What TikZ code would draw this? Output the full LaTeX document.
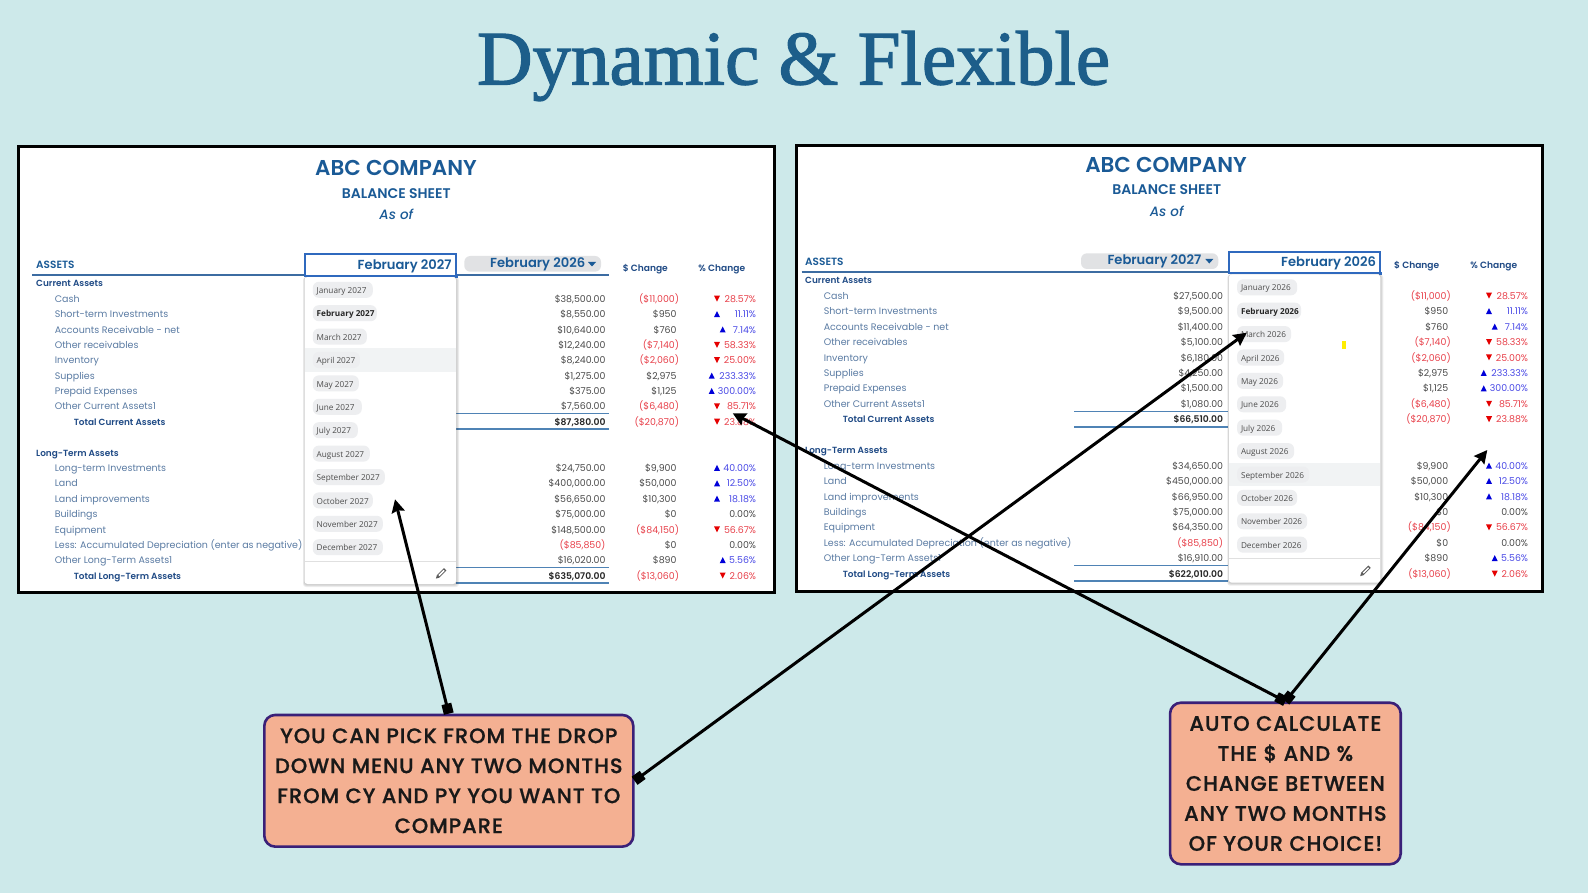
\documentclass[tikz,border=0pt]{standalone}
\usepackage{fontspec}
\usetikzlibrary{arrows.meta}
\setmainfont{Poppins}[BoldFont=Poppins SemiBold,BoldItalicFont=Poppins Medium Italic]
\newfontfamily\titlefont[FakeBold=1.6]{Liberation Serif}
\newfontfamily\callfont[LetterSpace=4.5,FakeBold=0.8]{Poppins Medium}
\newfontfamily\menufont{Open Sans}
\definecolor{bgc}{HTML}{CDE9EA}
\definecolor{titlec}{HTML}{1D5E8A}
\definecolor{headc}{HTML}{1A5A96}
\definecolor{labc}{HTML}{5A7BA3}
\definecolor{secc}{HTML}{1F4A85}
\definecolor{valc}{HTML}{4A4A4A}
\definecolor{redc}{HTML}{E8404A}
\definecolor{bluec}{HTML}{4A4AE6}
\definecolor{linec}{HTML}{4F83B5}
\definecolor{selc}{HTML}{2F69BE}
\definecolor{pillc}{HTML}{EDEEF0}
\definecolor{hlc}{HTML}{F1F3F4}
\definecolor{callfill}{HTML}{F4B092}
\definecolor{callline}{HTML}{3A2078}
\newcounter{cellno}
\tikzset{
  cell/.style={inner sep=0pt,text height=0.72em,text depth=0pt,font=\fontsize{9.4}{10}\selectfont},
  labcell/.style={cell,anchor=west,text=labc,font=\fontsize{9.5}{10}\selectfont},
  seccell/.style={cell,anchor=west,text=secc,font=\fontsize{8.9}{10}\selectfont\bfseries},
  valcell/.style={cell,anchor=east,text=valc},
  totcell/.style={valcell,text=black!85,font=\fontsize{9.2}{10}\selectfont\bfseries},
  panel/.style={draw=black,line width=3pt,fill=white},
  callout/.style={draw=callline,line width=2.6pt,fill=callfill,rounded corners=11pt,align=center,text=black!90,
    font=\callfont\fontsize{21}{30}\selectfont},
  link/.style={draw=black,line width=3pt,{Square[length=10pt,width=10pt]}-{Stealth[length=13pt,width=13pt,inset=1.5pt]}},
}
\newcommand\tcell[4]{\stepcounter{cellno}\node[#1] (c\thecellno) at (#2,#3) {#4};}
\newcommand\trione[3]{% direction, x, y
  \if#1u\fill[blue!85!black] (#2-3,#3+3) -- (#2+3,#3+3) -- (#2,#3-3) -- cycle;
  \else\fill[red!90!black] (#2-3,#3-3) -- (#2+3,#3-3) -- (#2,#3+3) -- cycle;\fi}
\newcommand\chgrow[5]{% idx, change, type, pct, tri offset
  \pgfmathsetmacro\yy{\Ya+#1*\Rh}
  \if#3d
    \tcell{valcell,text=redc}{\Xa}{\yy}{#2}
    \tcell{valcell,text=redc}{\Xb}{\yy}{#4}
    \pgfmathsetmacro\tx{\Xb-#5}\trione{d}{\tx}{\yy}
  \else
    \pgfmathsetmacro\tz{\Xa-2.6}
    \tcell{valcell}{\tz}{\yy}{#2}
    \if#3u
      \tcell{valcell,text=bluec}{\Xb}{\yy}{#4}
      \pgfmathsetmacro\tx{\Xb-#5}\trione{u}{\tx}{\yy}
    \else
      \tcell{valcell}{\Xb}{\yy}{#4}
    \fi
  \fi}
\newcommand\allchg{%
  \chgrow{0}{(\$11,000)}{d}{28.57\%}{39.3}
  \chgrow{1}{\$950}{u}{11.11\%}{39.3}
  \chgrow{2}{\$760}{u}{7.14\%}{33.6}
  \chgrow{3}{(\$7,140)}{d}{58.33\%}{39.3}
  \chgrow{4}{(\$2,060)}{d}{25.00\%}{39.3}
  \chgrow{5}{\$2,975}{u}{233.33\%}{44.6}
  \chgrow{6}{\$1,125}{u}{300.00\%}{44.6}
  \chgrow{7}{(\$6,480)}{d}{85.71\%}{39.3}
  \chgrow{8}{(\$20,870)}{d}{23.88\%}{39.3}
  \chgrow{11}{\$9,900}{u}{40.00\%}{39.3}
  \chgrow{12}{\$50,000}{u}{12.50\%}{39.3}
  \chgrow{13}{\$10,300}{u}{18.18\%}{39.3}
  \chgrow{14}{\$0}{n}{0.00\%}{0}
  \chgrow{15}{(\$84,150)}{d}{56.67\%}{39.3}
  \chgrow{16}{\$0}{n}{0.00\%}{0}
  \chgrow{17}{\$890}{u}{5.56\%}{33.6}
  \chgrow{18}{(\$13,060)}{d}{2.06\%}{33.6}}
\newcommand\alllabels{%
  \foreach \i/\t in {0/Cash,1/Short-term Investments,2/Accounts Receivable - net,3/Other receivables,4/Inventory,5/Supplies,6/Prepaid Expenses,7/Other Current Assets1,11/Long-term Investments,12/Land,13/Land improvements,14/Buildings,15/Equipment,16/Less: Accumulated Depreciation (enter as negative),17/Other Long-Term Assets1}{
    \pgfmathsetmacro\yy{\Ya+\i*\Rh}\pgfmathsetmacro\xx{\Xl+18.6}
    \tcell{labcell}{\xx}{\yy}{\t}}
  \foreach \i/\t in {8/Total Current Assets,18/Total Long-Term Assets}{
    \pgfmathsetmacro\yy{\Ya+\i*\Rh}\pgfmathsetmacro\xx{\Xl+37.6}
    \tcell{seccell}{\xx}{\yy}{\t}}
  \foreach \i/\t in {-1/Current Assets,10/Long-Term Assets}{
    \pgfmathsetmacro\yy{\Ya+\i*\Rh}
    \tcell{seccell}{\Xl}{\yy}{\t}}}
\newcommand\vrow[3][valcell]{\pgfmathsetmacro\yy{\Ya+#2*\Rh}\tcell{#1}{\Xv}{\yy}{#3}}
\newcommand\dropdown[5]{% left x, top y of selected box, year, highlighted row, bottom y
  \pgfmathsetmacro\xa{#1}\pgfmathsetmacro\xb{#1+151.5}
  \pgfmathsetmacro\ya{#2+22.5}\pgfmathsetmacro\yb{#5}
  \foreach \g in {3,2,1}{
    \fill[black,opacity=0.07,rounded corners=3pt] (\xa-\g*0.5,\ya) rectangle (\xb+\g,\yb+\g);}
  \fill[white,rounded corners=3pt] (\xa,\ya) rectangle (\xb,\yb);
  \pgfmathsetmacro\ytop{#2+35.3}
  \pgfmathsetmacro\yhl{\ytop+(#4)*23.4}
  \fill[hlc] (\xa,\yhl-11.8) rectangle (\xb,\yhl+11.8);
  \foreach \i/\m/\w in {0/January/60,1/February/64,2/March/54,3/April/47,4/May/46,5/June/49,6/July/45,7/August/57,8/September/72,9/October/60,10/November/70,11/December/70}{
    \pgfmathsetmacro\yy{\ytop+\i*23.4}\pgfmathsetmacro\pl{\xa+8.3}\pgfmathsetmacro\pr{\xa+8.3+\w}\pgfmathsetmacro\tx{\xa+12}
    \fill[pillc,rounded corners=6pt] (\pl,\yy-8) rectangle (\pr,\yy+8);
    \ifnum\i=1
      \tcell{cell,anchor=west,text=black!85,font=\menufont\fontsize{8.2}{10}\selectfont\bfseries}{\tx}{\yy}{\m{} #3}
    \else
      \tcell{cell,anchor=west,text=black!70,font=\menufont\fontsize{8.2}{10}\selectfont}{\tx}{\yy}{\m{} #3}
    \fi}
  \pgfmathsetmacro\ysep{\ytop+271.4}
  \draw[black!12,line width=0.7pt] (\xa,\ysep) -- (\xb,\ysep);
  \begin{scope}[shift={(\xb-15,\ysep+12.3)},rotate=225,scale=1.2]
    \fill[black!65] (-5,-1.4) rectangle (3.5,1.4);
    \fill[white] (-3.8,-0.6) rectangle (2.5,0.6);
    \fill[black!65] (3.5,-1.4) -- (6,0) -- (3.5,1.4) -- cycle;
  \end{scope}
  \draw[selc,line width=2pt,fill=white] (#1,#2) rectangle (\xb,#2+21.5);
  \fill[selc] (\xb-1.5,#2+20) rectangle (\xb+1.5,#2+23.5);}
\begin{document}
\begin{tikzpicture}[x=1pt,y=-1pt]
\useasboundingbox (0,0) rectangle (1588,893);
\fill[bgc] (0,0) rectangle (1588,893);
\node[inner sep=0pt,text=titlec,font=\titlefont\fontsize{77}{80}\selectfont] (title) at (793.5,66) {Dynamic \& Flexible};

% panels
\draw[panel] (18,146.5) rectangle (774,592.5);
\draw[panel] (796.3,146) rectangle (1542,591.5);

% left sheet
\node[inner sep=0pt,text=headc,font=\fontsize{21.5}{22}\selectfont\bfseries] (ltitle) at (396,168.3) {ABC COMPANY};
\node[inner sep=0pt,text=headc,font=\fontsize{14}{15}\selectfont\bfseries] (lsub) at (396.3,193.3) {BALANCE SHEET};
\node[inner sep=0pt,text=headc,font=\fontsize{13.5}{15}\selectfont\bfseries\itshape] (lasof) at (396.3,214.3) {As of};
\tcell{seccell,font=\fontsize{10.5}{12}\selectfont\bfseries,text=headc}{36}{265}{ASSETS}
\draw[linec!60!secc,line width=1.5pt] (32,275) -- (304,275);
\draw[linec!60!secc,line width=1.5pt] (456,275) -- (608.7,275);
\fill[pillc!95!black,rounded corners=6pt] (464.3,256) rectangle (601,271.7);
\tcell{cell,anchor=west,text=headc,font=\fontsize{13.1}{15}\selectfont\bfseries}{490}{264.3}{February 2026}
\fill[headc] (588,262) -- (596,262) -- (592,266.5) -- cycle;
\tcell{cell,anchor=center,text=secc,font=\fontsize{9.1}{11}\selectfont\bfseries}{645.3}{267.7}{\$ Change}
\tcell{cell,anchor=center,text=secc,font=\fontsize{9.1}{11}\selectfont\bfseries}{721.8}{267.7}{\% Change}
\draw[linec,line width=1.2pt] (456,413.7) -- (608.7,413.7);
\draw[linec,line width=1.6pt] (456,428.7) -- (608.7,428.7);
\draw[linec,line width=1.2pt] (456,567.3) -- (608.7,567.3);
\draw[linec,line width=1.6pt] (456,582.7) -- (608.7,582.7);
\def\Ya{298.7}\def\Rh{15.38}\def\Xl{36}\def\Xv{605.7}\def\Xa{679.3}\def\Xb{756.3}
\alllabels
\vrow{0}{\$38,500.00}\vrow{1}{\$8,550.00}\vrow{2}{\$10,640.00}\vrow{3}{\$12,240.00}\vrow{4}{\$8,240.00}\vrow{5}{\$1,275.00}\vrow{6}{\$375.00}\vrow{7}{\$7,560.00}
\vrow{11}{\$24,750.00}\vrow{12}{\$400,000.00}\vrow{13}{\$56,650.00}\vrow{14}{\$75,000.00}\vrow{15}{\$148,500.00}\vrow{17}{\$16,020.00}
\vrow[valcell,text=redc]{16}{(\$85,850)}
\vrow[totcell]{8}{\$87,380.00}
\vrow[totcell]{18}{\$635,070.00}
\allchg
\dropdown{304.5}{254.5}{2027}{3}{584}
\tcell{cell,anchor=east,text=headc,font=\fontsize{13.1}{15}\selectfont\bfseries}{451.7}{265.7}{February 2027}

% right sheet
\node[inner sep=0pt,text=headc,font=\fontsize{21.5}{22}\selectfont\bfseries] (rtitle) at (1166,165) {ABC COMPANY};
\node[inner sep=0pt,text=headc,font=\fontsize{14}{15}\selectfont\bfseries] (rsub) at (1166.7,190) {BALANCE SHEET};
\node[inner sep=0pt,text=headc,font=\fontsize{13.5}{15}\selectfont\bfseries\itshape] (rasof) at (1166.7,211) {As of};
\tcell{seccell,font=\fontsize{10.5}{12}\selectfont\bfseries,text=headc}{805}{262}{ASSETS}
\draw[linec!60!secc,line width=1.5pt] (801.7,272) -- (1228,272);
\fill[pillc!95!black,rounded corners=6pt] (1081,253.3) rectangle (1218.3,269);
\tcell{cell,anchor=west,text=headc,font=\fontsize{13.1}{15}\selectfont\bfseries}{1107.3}{261}{February 2027}
\fill[headc] (1205.3,259) -- (1213.3,259) -- (1209.3,263.5) -- cycle;
\tcell{cell,anchor=center,text=secc,font=\fontsize{9.1}{11}\selectfont\bfseries}{1416.7}{265}{\$ Change}
\tcell{cell,anchor=center,text=secc,font=\fontsize{9.1}{11}\selectfont\bfseries}{1493.8}{265}{\% Change}
\draw[linec,line width=1.2pt] (1074,411.7) -- (1228,411.7);
\draw[linec,line width=1.6pt] (1074,426.7) -- (1228,426.7);
\draw[linec,line width=1.2pt] (1074,565.7) -- (1228,565.7);
\draw[linec,line width=1.6pt] (1074,581) -- (1228,581);
\def\Ya{295.7}\def\Rh{15.44}\def\Xl{805}\def\Xv{1223.3}\def\Xa{1451}\def\Xb{1528.3}
\alllabels
\vrow{0}{\$27,500.00}\vrow{1}{\$9,500.00}\vrow{2}{\$11,400.00}\vrow{3}{\$5,100.00}\vrow{4}{\$6,180.00}\vrow{5}{\$4,250.00}\vrow{6}{\$1,500.00}\vrow{7}{\$1,080.00}
\vrow{11}{\$34,650.00}\vrow{12}{\$450,000.00}\vrow{13}{\$66,950.00}\vrow{14}{\$75,000.00}\vrow{15}{\$64,350.00}\vrow{17}{\$16,910.00}
\vrow[valcell,text=redc]{16}{(\$85,850)}
\vrow[totcell]{8}{\$66,510.00}
\vrow[totcell]{18}{\$622,010.00}
\allchg
\dropdown{1228.8}{252}{2026}{8}{582.7}
\tcell{cell,anchor=east,text=headc,font=\fontsize{13.1}{15}\selectfont\bfseries}{1376.3}{262.7}{February 2026}
\fill[yellow!95!orange] (1342,341) rectangle (1345.5,349);

% callouts
\node[callout,minimum width=369pt,minimum height=131.7pt] (callA) at (448.8,780.8) {YOU CAN PICK FROM THE DROP\\DOWN MENU ANY TWO MONTHS\\FROM CY AND PY YOU WANT TO\\COMPARE};
\node[callout,minimum width=230.7pt,minimum height=161.6pt] (callB) at (1285.4,783.5) {AUTO CALCULATE\\THE \$ AND \%\\CHANGE BETWEEN\\ANY TWO MONTHS\\OF YOUR CHOICE!};

% arrow targets
\coordinate (tipA) at (395,499.3);
\coordinate (tipB) at (1246.7,332.7);
\coordinate (tipC) at (732.7,413.3);
\coordinate (tipD) at (1487.3,450);
\draw[link] (callA.north) -- (tipA);
\draw[link] (callA.east) -- (tipB);
\draw[link] (callB.north) -- (tipC);
\draw[link] (callB.north) -- (tipD);
\end{tikzpicture}
\end{document}
